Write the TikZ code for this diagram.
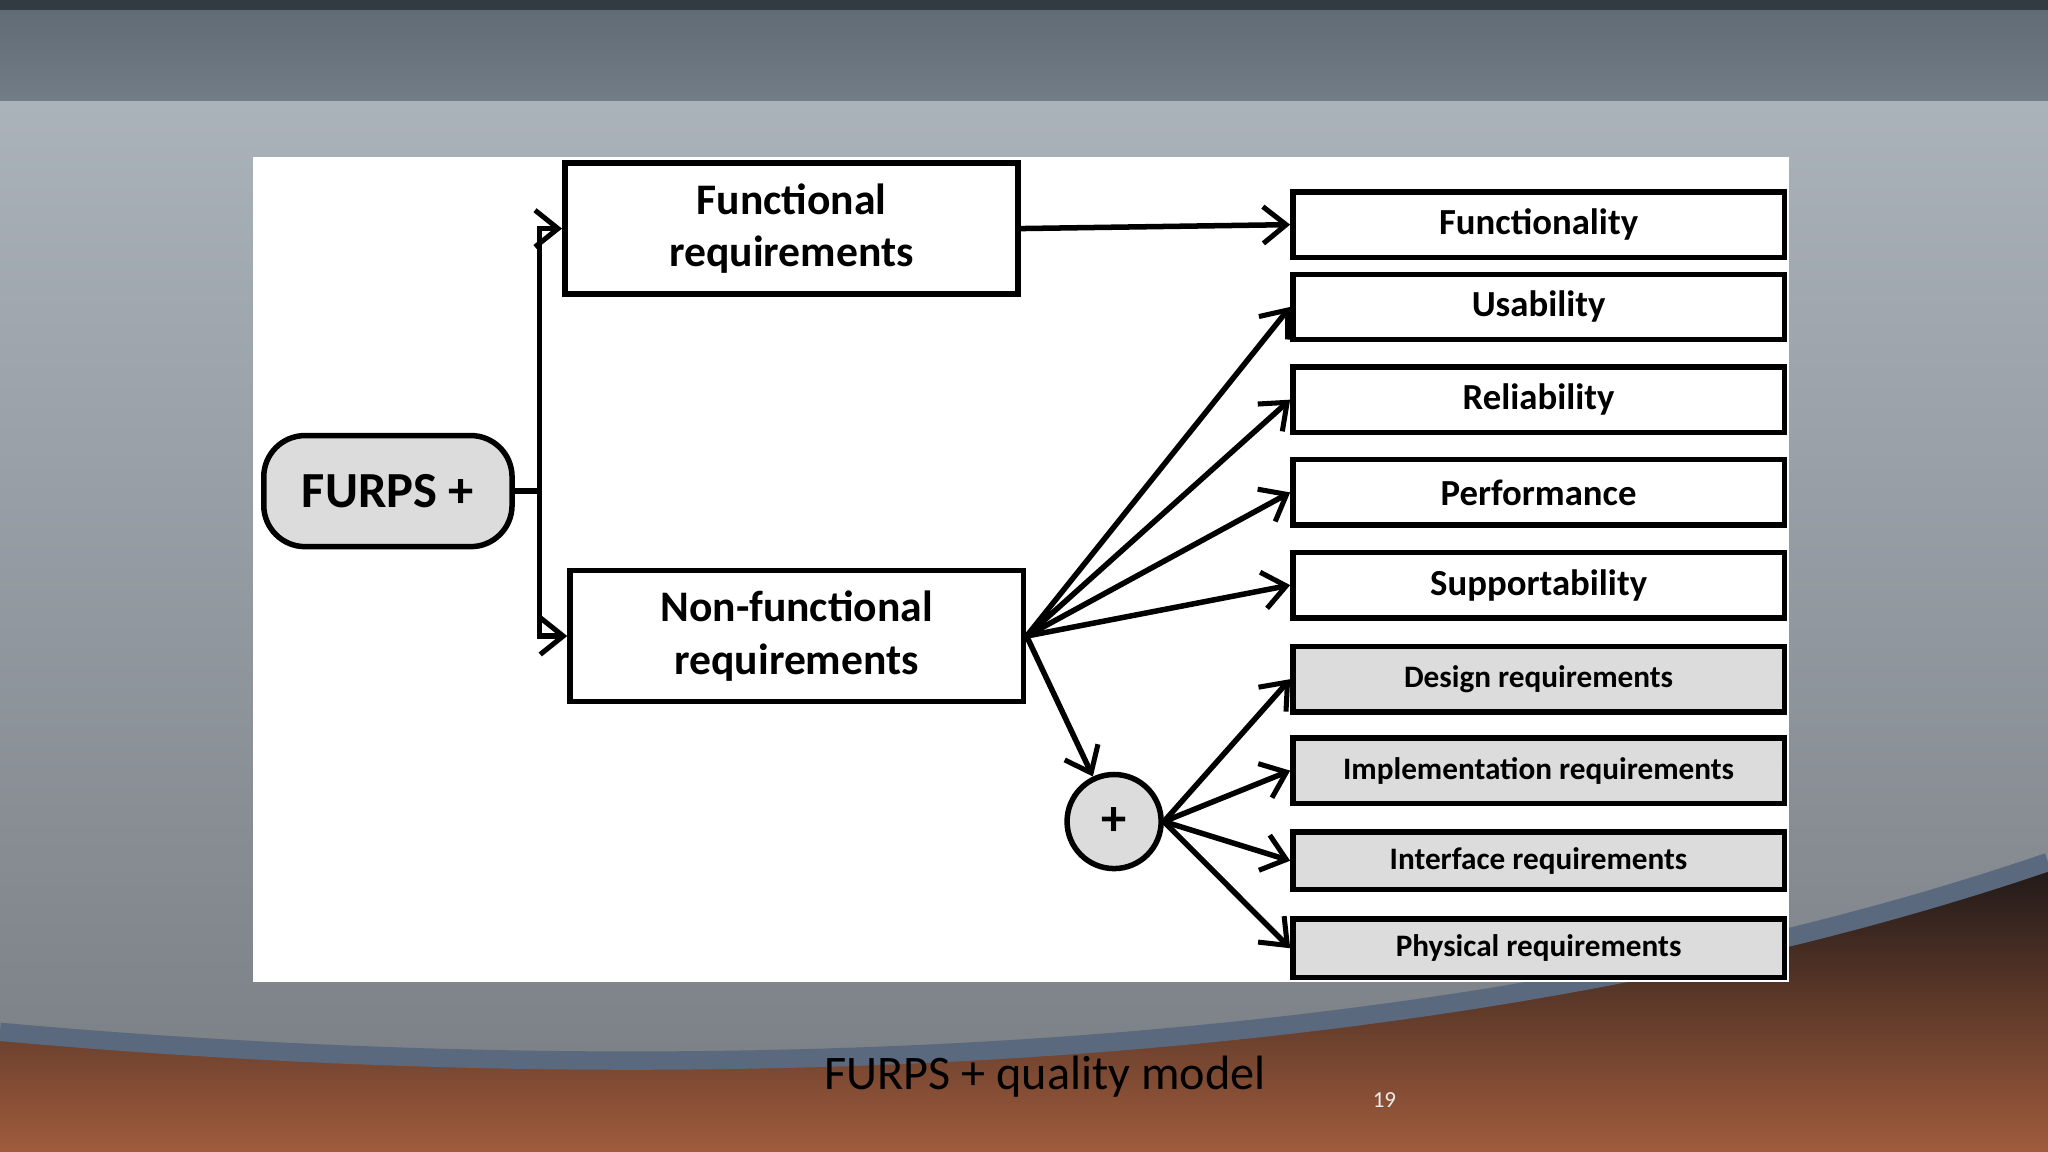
\documentclass[tikz,border=0pt]{standalone}
\usepackage{fontspec}
\setmainfont{Carlito}
\usetikzlibrary{arrows.meta,calc}
\definecolor{boxgray}{HTML}{DCDCDC}
\definecolor{bartop}{RGB}{95,105,115}
\definecolor{barbot}{RGB}{115,125,135}
\definecolor{barline}{RGB}{50,58,66}
\definecolor{bgtop}{RGB}{170,178,186}
\definecolor{bgbot}{RGB}{120,125,130}
\definecolor{dk}{RGB}{30,24,24}
\definecolor{orng}{RGB}{160,92,60}
\definecolor{arcc}{RGB}{90,105,125}
\begin{document}
\begin{tikzpicture}[x=0.01cm,y=-0.01cm,
  box/.style={draw=black,line width=1.2pt,inner sep=0pt,font=\bfseries},
  arr/.style={-{Straight Barb[length=5pt,width=8pt,line width=1.1pt]},line width=1.2pt}]
\useasboundingbox (0,0) rectangle (1568,882);
% background
\shade[top color=bartop,bottom color=barbot] (0,0) rectangle (1568,78);
\fill[barline] (0,0) rectangle (1568,8);
\shade[top color=bgtop,bottom color=bgbot] (0,78) rectangle (1568,882);
\shade[top color=dk,bottom color=orng]
  (0,882) -- (0,790) .. controls (500,835) and (1100,820) .. (1568,660) -- (1568,882) -- cycle;
\draw[line width=4pt,arcc] (0,790) .. controls (500,835) and (1100,820) .. (1568,660);
\fill[white] (194,120) rectangle (1370,752);
% nodes
\node[box,fill=boxgray,rounded corners=9pt,minimum width=1.9cm,minimum height=0.85cm,font=\bfseries\fontsize{11}{12}\selectfont] (f) at (297,376) {FURPS +};
\node[box,minimum width=3.47cm,minimum height=1cm,align=center,font=\bfseries\fontsize{9.5}{11.5}\selectfont] (fr) at (606,175) {Functional\\requirements};
\node[box,minimum width=3.47cm,minimum height=1cm,align=center,font=\bfseries\fontsize{9.5}{11.5}\selectfont] (nf) at (610,487) {Non-functional\\requirements};
\foreach \n/\y/\t in {fu/172/Functionality,us/235/Usability,re/306/Reliability,pe/377/Performance,su/448/Supportability}
  \node[box,minimum width=3.76cm,minimum height=0.5cm,font=\bfseries\fontsize{8}{9}\selectfont] (\n) at (1178,\y) {\t};
\foreach \n/\y/\h/\t in {de/520/0.5cm/Design requirements,im/590/0.5cm/Implementation requirements,in/659/0.44cm/Interface requirements,ph/726/0.45cm/Physical requirements}
  \node[box,fill=boxgray,minimum width=3.76cm,minimum height=\h,font=\bfseries\fontsize{6.8}{8}\selectfont] (\n) at (1178,\y) {\t};
\node[draw=black,line width=1.2pt,fill=boxgray,circle,minimum size=0.72cm,inner sep=0pt,font=\bfseries\fontsize{11}{12}\selectfont] (p) at (853,629) {+};
% connectors
\coordinate (j) at (413,376);
\draw[line width=1.2pt] (f.east) -- (j);
\draw[arr] (j) |- (fr.west);
\draw[arr] (j) |- (nf.west);
\draw[arr] (fr.east) -- (fu.west);
\coordinate (o) at (786,487);
\foreach \n in {us,re,pe,su} \draw[arr] (o) -- (\n.west);
\draw[arr] (o) -- (p);
\foreach \n in {de,im,in,ph} \draw[arr] (p.east) -- (\n.west);
% caption
\node[font=\fontsize{10.5}{12}\selectfont] (cap) at (800,824) {FURPS + quality model};
\node[font=\fontsize{5}{6}\selectfont,white!85!gray] (pg) at (1060,842) {19};
\end{tikzpicture}
\end{document}
